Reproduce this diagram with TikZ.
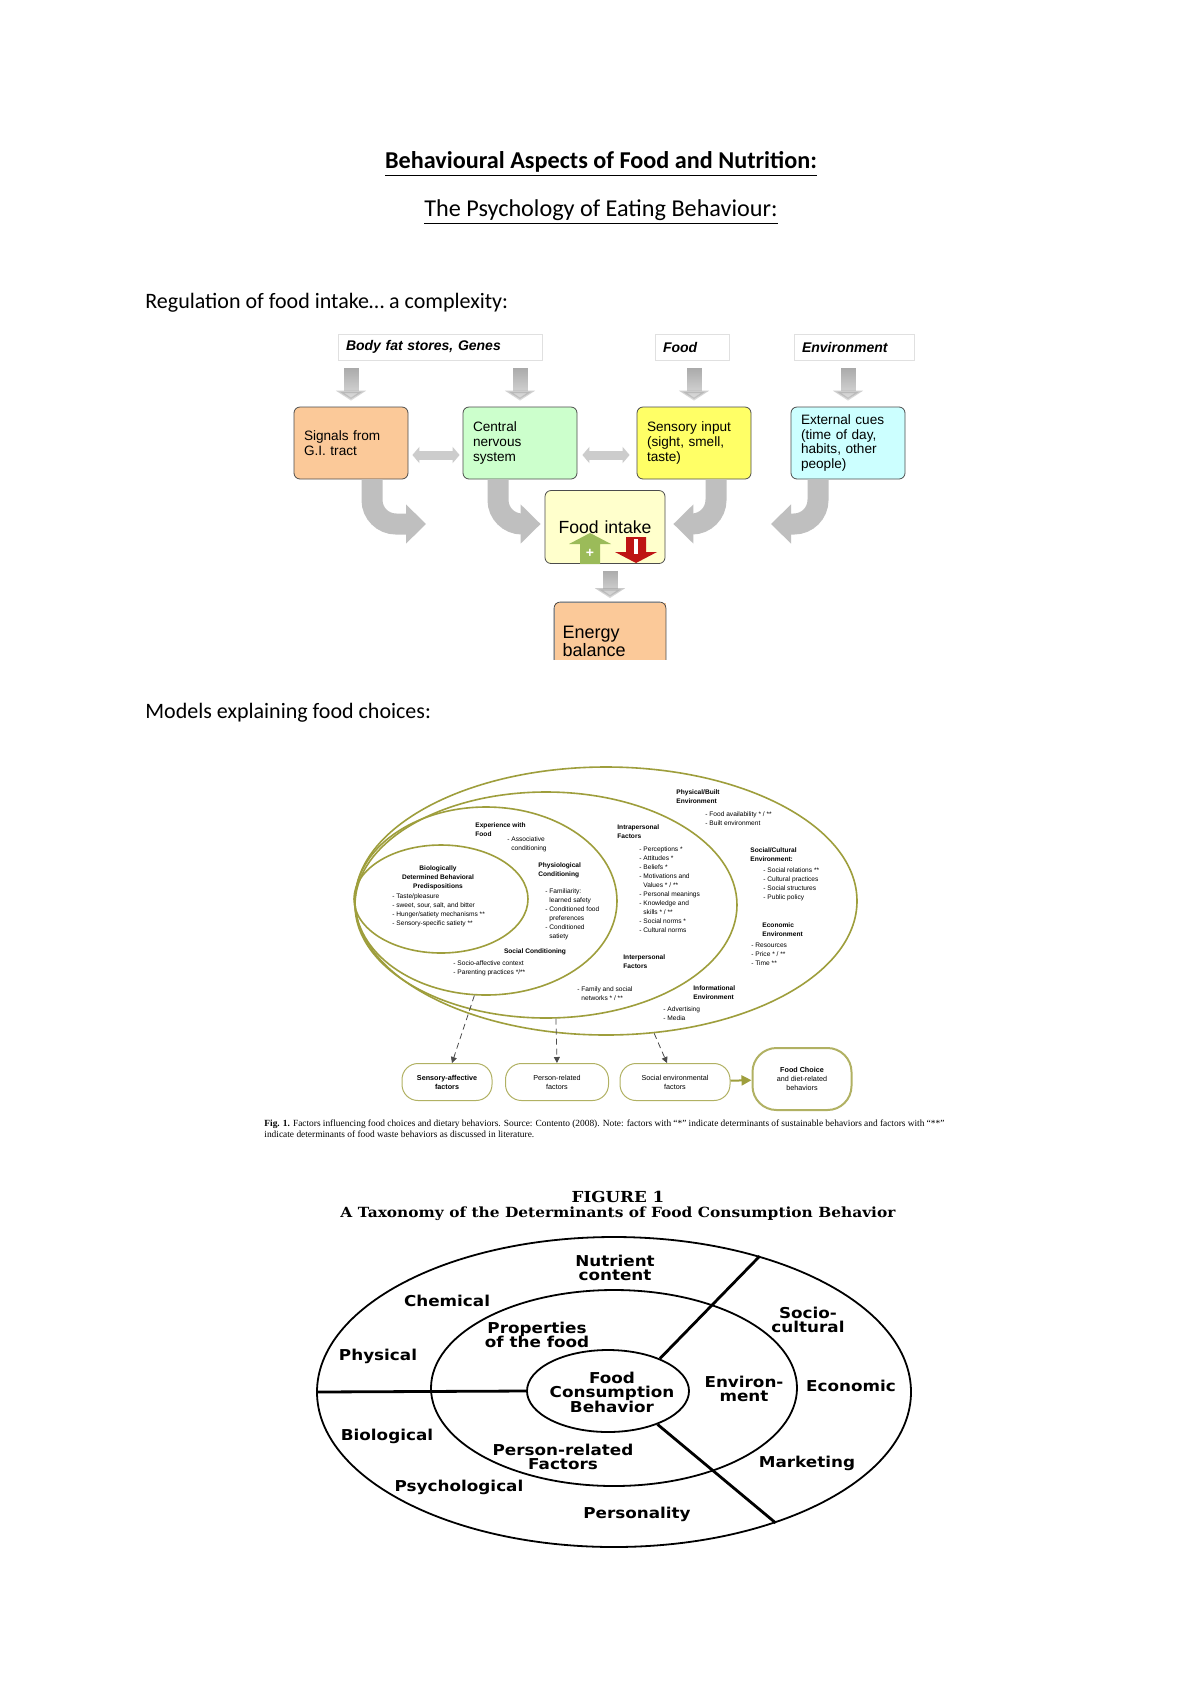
\documentclass[tikz,border=0pt]{standalone}
\usepackage{fontspec}
\setmainfont{Carlito}
\newfontfamily\diagfont{Liberation Sans}
\newfontfamily\capfont{Liberation Serif}
\newfontfamily\taxfont[FakeStretch=1.12]{DejaVu Sans}
\newfontfamily\taxheadfont[FakeStretch=1.1]{DejaVu Serif}
\usepackage{tikz}
\usetikzlibrary{arrows.meta,positioning,calc,fadings,shapes.geometric}

\definecolor{peach}{RGB}{251,201,153}
\definecolor{mint}{RGB}{204,255,204}
\definecolor{lemon}{RGB}{255,255,102}
\definecolor{skyish}{RGB}{204,255,255}
\definecolor{cream}{RGB}{255,255,204}
\definecolor{curvegray}{RGB}{191,191,191}
\definecolor{ringolive}{RGB}{158,158,60}
\definecolor{plusgreen}{RGB}{155,187,89}
\definecolor{minusred}{RGB}{190,20,20}

\tikzfading[name=fadedown, top color=transparent!0, bottom color=transparent!80]

\tikzset{
  doctitle/.style={font=\bfseries\fontsize{12.1}{14}\selectfont, inner sep=0pt},
  docsub/.style={font=\fontsize{12.1}{14}\selectfont, inner sep=0pt},
  doctext/.style={font=\fontsize{11}{13}\selectfont, inner sep=0pt},
  cuebox/.style={draw=black!12, font=\diagfont\bfseries\itshape\fontsize{7}{8}\selectfont,
    minimum height=13pt, inner xsep=4pt, inner ysep=0pt, align=left},
  inbox/.style={draw=black!70, rounded corners=3pt, minimum width=57pt, minimum height=36pt,
    inner xsep=5pt, inner ysep=2pt, text width=47pt, align=left,
    font=\diagfont\fontsize{6.8}{7.3}\selectfont},
  fatdown/.style={draw=gray!75, line width=7.5pt, -{Triangle[width=15pt,length=5pt]},
    path fading=fadedown},
  fatboth/.style={draw=gray!40, line width=4.5pt,
    {Triangle[width=8pt,length=3.5pt]}-{Triangle[width=8pt,length=3.5pt]}},
  fatcurve/.style={draw=curvegray, line width=10.5pt, rounded corners=12pt,
    -{Triangle[width=19pt,length=10pt]}},
  ring/.style={draw=ringolive, line width=0.8pt, ellipse, inner sep=0pt},
  tinytxt/.style={font=\diagfont\fontsize{3.3}{4.5}\selectfont, align=left, inner sep=0pt, anchor=west},
  tinyhead/.style={tinytxt, font=\diagfont\bfseries\fontsize{3.3}{4.5}\selectfont},
  factorbox/.style={draw=ringolive!80, line width=0.5pt, rounded corners=8pt, minimum height=18.5pt,
    align=center, inner sep=1pt, font=\diagfont\fontsize{3.6}{4.5}\selectfont},
  dasharrow/.style={densely dashed, draw=black!70, line width=0.4pt, -{Triangle[width=3pt,length=3pt]}},
  olivearrow/.style={draw=ringolive, line width=1pt, -{Triangle[width=5pt,length=5pt]}},
  taxring/.style={draw=black, line width=0.9pt, ellipse, inner sep=0pt},
  taxsplit/.style={draw=black, line width=1.4pt},
  taxlbl/.style={font=\taxfont\bfseries\fontsize{7.5}{7.3}\selectfont, align=center, inner sep=0pt},
  taxhead/.style={font=\taxheadfont\bfseries\fontsize{7}{8}\selectfont, inner sep=0pt}
}

\begin{document}
\begin{tikzpicture}[x=0.5pt, y=-0.5pt]
  \path[fill=white, use as bounding box] (0,0) rectangle (1200,1698);

  % page headings
  \node[doctitle] (title) at (601,164) {\underline{Behavioural Aspects of Food and Nutrition:}};
  \node[docsub] (subtitle) at (601,212) {\underline{The Psychology of Eating Behaviour:}};
  \node[doctext, anchor=west] (regul) at (145,303) {Regulation of food intake… a complexity:};

  % regulation of food intake
  \node[cuebox, text width=94pt] (lbl1) at (440,347) {Body fat stores, Genes};
  \node[cuebox, text width=29pt] (lbl2) at (692,347) {Food};
  \node[cuebox, text width=52pt] (lbl3) at (854,347) {Environment};

  \node[inbox, fill=peach] (sig) at (351,443) {Signals from\\G.I. tract};
  \node[inbox, fill=mint] (cns) at (520,443) {Central\\nervous\\system};
  \node[inbox, fill=lemon] (sens) at (694,443) {Sensory input\\(sight, smell,\\taste)};
  \node[inbox, fill=skyish] (ext) at (848,443) {External cues\\(time of day,\\habits, other\\people)};

  \node[inbox, fill=cream, minimum width=56pt, minimum height=36.5pt, text width=50pt, align=center,
        font=\diagfont\fontsize{8.8}{9}\selectfont] (fi) at (605,527) {Food intake};
  \fill[plusgreen] (580,564) -- (580,544) -- (569,544) -- (590,533) -- (611,544) -- (600,544) -- (600,564) -- cycle;
  \node[font=\diagfont\bfseries\fontsize{7}{7}\selectfont, text=white, inner sep=0pt] (plus) at (590,553) {+};
  \fill[minusred] (626,537) -- (646,537) -- (646,552) -- (657,552) -- (636,563) -- (615,552) -- (626,552) -- cycle;
  \fill[white] (634,539) rectangle (638,554);

  \node[fill=peach, minimum width=55.5pt, minimum height=28.5pt, inner sep=0pt] (en) at (610,631) {};
  \draw[draw=black!70, rounded corners=3pt] (en.south west) -- (en.north west) -- (en.north east) -- (en.south east);
  \node[font=\diagfont\fontsize{9}{9}\selectfont, align=left, anchor=north west, inner sep=0pt]
        (entext) at ($(en.north west)+(8,24)$) {Energy\\balance};

  \foreach \bx/\lb in {sig/lbl1, cns/lbl1, sens/lbl2, ext/lbl3}
    \draw[fatdown] ($(\bx.north |- \lb.south)+(0,8)$) -- ($(\bx.north)+(0,-6)$);
  \draw[fatdown] ($(fi.south -| en.north)+(0,7)$) -- ($(en.north)+(0,-4)$);

  \draw[fatboth] ($(sig.east)+(4,12)$) -- ($(cns.west)+(-3,12)$);
  \draw[fatboth] ($(cns.east)+(5,12)$) -- ($(sens.west)+(-7,12)$);

  \coordinate (sigend) at (426,524);
  \coordinate (extend) at (771,524);
  \draw[fatcurve] ($(sig.south)+(21,0)$) |- (sigend);
  \draw[fatcurve] ($(cns.south)+(-22,0)$) |- ($(fi.west)+(-4,-3)$);
  \draw[fatcurve] ($(sens.south)+(22,0)$) |- ($(fi.east)+(8,-3)$);
  \draw[fatcurve] ($(ext.south)+(-30,0)$) |- (extend);

  % models explaining food choices
  \node[doctext, anchor=west] (models) at (145,713) {Models explaining food choices:};

  \node[ring, minimum width=251pt, minimum height=134pt] (envring) at (606,901) {};
  \node[ring, minimum width=191pt, minimum height=113pt] (indring) at (546,905) {};
  \node[ring, minimum width=131pt, minimum height=94pt] (expring) at (486,901) {};
  \node[ring, minimum width=87pt, minimum height=54pt] (bioring) at (441,899) {};

  \node[tinyhead] (physlbl) at (676,796.5) {Physical/Built\\Environment};
  \node[tinytxt] (physlist) at (705,818.5) {- Food availability * / **\\- Built environment};
  \node[tinyhead] (intralbl) at (617,832) {Intrapersonal\\Factors};
  \node[tinytxt] (intralist) at (639,890) {- Perceptions *\\- Attitudes *\\- Beliefs *\\- Motivations and\\\phantom{- }Values * / **\\- Personal meanings\\- Knowledge and\\\phantom{- }skills * / **\\- Social norms *\\- Cultural norms};
  \node[tinyhead] (soclbl) at (750,854.5) {Social/Cultural\\Environment:};
  \node[tinytxt] (soclist) at (763,884) {- Social relations **\\- Cultural practices\\- Social structures\\- Public policy};
  \node[tinyhead] (ecolbl) at (762,929.5) {Economic\\Environment};
  \node[tinytxt] (ecolist) at (751,954.5) {- Resources\\- Price * / **\\- Time **};
  \node[tinyhead] (interlbl) at (623,961.5) {Interpersonal\\Factors};
  \node[tinytxt] (interlist) at (577,993.5) {- Family and social\\\phantom{- }networks * / **};
  \node[tinyhead] (infolbl) at (693,992.5) {Informational\\Environment};
  \node[tinytxt] (infolist) at (663,1013.5) {- Advertising\\- Media};
  \node[tinyhead] (explbl) at (475,830) {Experience with\\Food};
  \node[tinytxt] (explist) at (507,844.5) {- Associative\\\phantom{- }conditioning};
  \node[tinyhead] (physiolbl) at (538,870) {Physiological\\Conditioning};
  \node[tinytxt] (physiolist) at (545,914.5) {- Familiarity:\\\phantom{- }learned safety\\- Conditioned food\\\phantom{- }preferences\\- Conditioned\\\phantom{- }satiety};
  \node[tinyhead, anchor=center, align=center] (biolbl) at (438,878) {Biologically\\Determined Behavioral\\Predispositions};
  \node[tinytxt] (biolist) at (392,910) {- Taste/pleasure\\- sweet, sour, salt, and bitter\\- Hunger/satiety mechanisms **\\- Sensory-specific satiety **};
  \node[tinyhead, anchor=center] (soccondlbl) at (535,952) {Social Conditioning};
  \node[tinytxt] (soccondlist) at (453,968.5) {- Socio-affective context\\- Parenting practices */**};

  \node[factorbox, minimum width=45pt, font=\diagfont\bfseries\fontsize{3.6}{4.5}\selectfont] (sa) at (447,1082) {Sensory-affective\\factors};
  \node[factorbox, minimum width=51.5pt] (pr) at (557,1082) {Person-related\\factors};
  \node[factorbox, minimum width=55pt] (se) at (675,1082) {Social environmental\\factors};
  \node[factorbox, line width=1pt, minimum width=49.5pt, minimum height=31pt, rounded corners=12pt] (fc) at (802,1079) {\textbf{Food Choice}\\and diet-related\\behaviors};

  \draw[dasharrow] (expring.263) -- ([xshift=2.5pt]sa.north);
  \draw[dasharrow] (indring.275) -- (pr.north);
  \draw[dasharrow] (envring.290) -- ([xshift=-4pt]se.north);
  \draw[olivearrow] (se) -- (fc);

  \node[anchor=north west, text width=340pt, align=justify, inner sep=0pt,
        font=\capfont\fontsize{4.7}{5.5}\selectfont] (caption) at (264,1119)
    {\textbf{Fig. 1.} Factors influencing food choices and dietary behaviors. Source: Contento (2008). Note: factors with “*” indicate determinants of sustainable behaviors and factors with “**”\linebreak indicate determinants of food waste behaviors as discussed in literature.};

  % taxonomy of food consumption behaviour
  \node[taxhead, font=\taxheadfont\bfseries\fontsize{7.6}{8}\selectfont] (figno) at (618,1197) {FIGURE 1};
  \node[taxhead] (figtitle) at (618,1214) {A Taxonomy of the Determinants of Food Consumption Behavior};

  \node[taxring, minimum width=297pt, minimum height=155pt] (taxout) at (614,1392) {};
  \node[taxring, minimum width=183pt, minimum height=98pt] (taxmid) at (614,1388) {};
  \node[taxring, minimum width=81pt, minimum height=41pt] (taxin) at (608,1391) {};
  \draw[taxsplit] (taxout.west) -- (taxin.west);
  \draw[taxsplit] (taxin.32) -- (taxout.43);
  \draw[taxsplit] (taxin.326) -- (taxout.321);

  \node[taxlbl] (fcb) at (612,1392) {Food\\Consumption\\Behavior};
  \node[taxlbl] (nutr) at (615,1268) {Nutrient\\content};
  \node[taxlbl] (chem) at (447,1301) {Chemical};
  \node[taxlbl] (phys) at (378,1356) {Physical};
  \node[taxlbl] (prop) at (537,1335) {Properties\\of the food};
  \node[taxlbl] (socio) at (808,1320) {Socio-\\cultural};
  \node[taxlbl] (envir) at (744,1389) {Environ-\\ment};
  \node[taxlbl] (econ) at (851,1386) {Economic};
  \node[taxlbl] (bio) at (387,1436) {Biological};
  \node[taxlbl] (person) at (563,1457) {Person-related\\Factors};
  \node[taxlbl] (market) at (807,1463) {Marketing};
  \node[taxlbl] (psych) at (459,1487) {Psychological};
  \node[taxlbl] (personal) at (637,1514) {Personality};
\end{tikzpicture}
\end{document}
